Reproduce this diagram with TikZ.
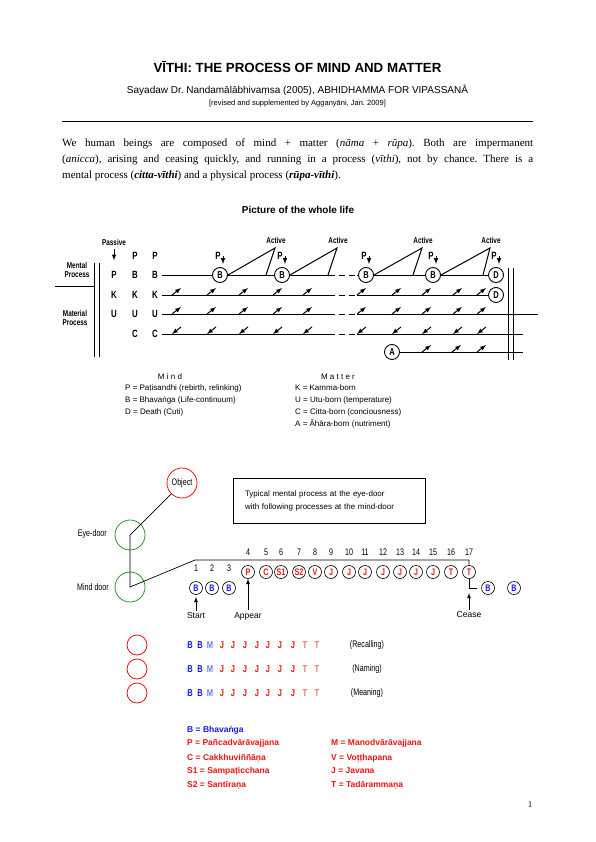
\documentclass[tikz,border=0pt]{standalone}
\usepackage{fontspec}
\setmainfont{Liberation Serif}
\setsansfont{Liberation Sans}
\newfontfamily\narrowfont[FakeStretch=0.75]{Liberation Sans}
\usetikzlibrary{arrows, positioning, calc}
\definecolor{vred}{RGB}{235,20,20}
\definecolor{vblue}{RGB}{25,25,235}
\definecolor{vgreen}{RGB}{40,150,40}
\frenchspacing

\begin{document}
\begin{tikzpicture}[x=1pt,y=-1pt,
  lbl/.style={font=\narrowfont\bfseries\fontsize{8.5}{9}\selectfont,inner sep=0pt},
  colltr/.style={font=\narrowfont\bfseries\fontsize{10.5}{11}\selectfont,inner sep=0pt},
  ring/.style={circle,draw,fill=white,line width=0.9pt,minimum size=15pt,inner sep=0pt,font=\narrowfont\bfseries\fontsize{10}{10}\selectfont},
  rowline/.style={line width=1pt},
  gap/.style={line width=1pt,dash pattern=on 6pt off 4pt},
  tick/.style={-latex,line width=1pt},
  mrk/.style={circle,draw,line width=0.6pt,minimum size=13pt,inner sep=0pt,font=\narrowfont\bfseries\fontsize{9.5}{9.5}\selectfont},
  num/.style={font=\narrowfont\fontsize{9.5}{9.5}\selectfont,inner sep=0pt},
  seq/.style={font=\narrowfont\bfseries\fontsize{10}{10}\selectfont,inner sep=0pt},
  door/.style={circle,draw=vgreen,line width=0.8pt,minimum size=30pt,inner sep=0pt},
  legtxt/.style={font=\sffamily\fontsize{8}{9}\selectfont,inner sep=0pt},
  key/.style={font=\sffamily\bfseries\fontsize{8.5}{10}\selectfont,anchor=west,inner sep=0pt}]
\useasboundingbox (0,0) rectangle (595,842);
\fill[white] (0,0) rectangle (595,842);

% Heading
\node[font=\sffamily\bfseries\fontsize{13.3}{16}\selectfont] (title) at (297.5,67) {VĪTHI: THE PROCESS OF MIND AND MATTER};
\node[font=\sffamily\fontsize{10}{12}\selectfont] (author) at (297.5,90) {Sayadaw Dr. Nandamālābhivaṃsa (2005), ABHIDHAMMA FOR VIPASSANĀ};
\node[font=\sffamily\fontsize{7.5}{9}\selectfont] (revised) at (297.5,104) {[revised and supplemented by Agganyāni, Jan. 2009]};
\draw[line width=0.7pt] (62,121) -- (533,121);
\node[anchor=north west,text width=471pt,align=justify,inner sep=0pt,font=\fontsize{11}{16}\selectfont] (intro) at (62,139)
  {We human beings are composed of mind + matter (\textit{nāma} + \textit{rūpa}). Both are impermanent\linebreak
   (\textit{anicca}), arising and ceasing quickly, and running in a process (\textit{vīthi}), not by chance. There is a\linebreak
   mental process (\textbf{\textit{citta-vīthi}}) and a~physical process (\textbf{\textit{rūpa-vīthi}}).};

% Picture of the whole life
\node[font=\sffamily\bfseries\fontsize{10}{12}\selectfont] (whole) at (298,210) {Picture of the whole life};
\node[lbl,align=center] (mental) at (77,270) {Mental\\Process};
\node[lbl,align=center] (material) at (75,318) {Material\\Process};
\draw[rowline] (94,263) -- (94,357) (99,263) -- (99,357);
\draw[rowline] (55,286) -- (94,286);
\node[lbl] (passive) at (114,242) {Passive};
\draw[tick,shorten <=4pt] (passive.south) -- ++(0,15);
\node[colltr] (p2) at (135,256) {P};
\node[colltr] (p3) at (155,256) {P};
\foreach \r/\y in {P/275,K/295,U/314}{\node[colltr] (l1\r) at (114,\y) {\r};}
\foreach \r/\y in {B/275,K/295,U/314,C/334}{
  \node[colltr] (l2\r) at (135,\y) {\r};
  \node[colltr] (l3\r) at (155,\y) {\r};}

% Mental row
\node[ring] (b1) at (220,275) {B};
\node[ring] (b2) at (282,275) {B};
\node[ring] (b3) at (366,275) {B};
\node[ring] (b4) at (433,275) {B};
\node[ring] (d1) at (496,275) {D};
\node[ring] (d2) at (496,295) {D};
\node[ring] (a1) at (392,352) {A};
\draw[rowline] (l3B.east) ++(4,0) -- (b1) -- (b2) -- (329,275);
\draw[gap] (329,275) -- (357,275);
\draw[rowline] (357,275) -- (b3) -- (b4) -- (d1);
\foreach \c/\ax/\fx in {b1/275/266,b2/337/328,b3/422/413,b4/490/483}{
  \draw[rowline] (\c.east) -- (\ax,248) -- (\fx,275);
  \node[lbl] (act\c) at (\ax+1,240) {Active};}
\foreach \c in {b1,b2,b3,b4,d1}{
  \node[colltr] (pp\c) at ($(\c)+(-2,-19)$) {P};
  \draw[tick] ($(\c)+(3,-19)$) -- ($(\c)+(3,-11)$);}

% Material rows
\draw[rowline] (l3K.east) ++(4,0) -- (329,295);
\draw[gap] (329,295) -- (357,295);
\draw[rowline] (357,295) -- (d2);
\draw[rowline] (l3U.east) ++(4,0) -- (329,314);
\draw[gap] (329,314) -- (357,314);
\draw[rowline] (357,314) -- (538,314);
\draw[rowline] (l3C.east) ++(4,0) -- (329,334);
\draw[gap] (329,334) -- (357,334);
\draw[rowline] (357,334) -- (523,334);
\draw[rowline] (a1) -- (523,352);
\draw[rowline] (508,268) -- (508,360) (513,268) -- (513,360);
\foreach \x in {177,212,244,278,308,362,397,427,458,482}{
  \draw[tick] (\x-5,295) -- (\x+4,288);
  \draw[tick] (\x-5,314) -- (\x+4,307);
  \draw[tick] (\x+4,327) -- (\x-5,334);}
\foreach \x in {427,457,482}{\draw[tick] (\x-5,352) -- (\x+4,345);}

% Legend
\node[legtxt] (mindhd) at (170,377) {M i n d};
\node[legtxt] (matterhd) at (338,377) {M a t t e r};
\node[legtxt,anchor=west] (keyP) at (125,388) {P = Paṭisandhi (rebirth, relinking)};
\node[legtxt,anchor=west] (keyB) at (125,400) {B = Bhavaṅga (Life-continuum)};
\node[legtxt,anchor=west] (keyD) at (125,412) {D = Death (Cuti)};
\node[legtxt,anchor=west] (keyK) at (295,388) {K = Kamma-born};
\node[legtxt,anchor=west] (keyU) at (295,400) {U = Utu-born (temperature)};
\node[legtxt,anchor=west] (keyC) at (295,412) {C = Citta-born (conciousness)};
\node[legtxt,anchor=west] (keyA) at (295,424) {A = Āhāra-born (nutriment)};

% Eye-door process
\node[circle,draw=vred,line width=0.8pt,minimum size=30pt,inner sep=0pt,font=\narrowfont\fontsize{9.5}{9.5}\selectfont] (object) at (182,483) {Object};
\node[door] (eye) at (130,535) {};
\node[door] (mdoor) at (130,587) {};
\node[num,anchor=east] (eyelbl) at (107,534) {Eye-door};
\node[num,anchor=east] (mdlbl) at (109,587) {Mind door};
\node[draw,line width=0.8pt,minimum width=192pt,minimum height=45pt,text width=168pt,align=left,inner xsep=12pt,font=\sffamily\fontsize{8}{13}\selectfont] (typical) at (329,500.5)
  {Typical mental process at the eye-door\\with following processes at the mind-door};
\foreach \n/\x in {1/196,2/212,3/229}{
  \node[num] (n\n) at (\x,568) {\n};
  \node[mrk,text=vblue] (bb\n) at (\x,588) {B};}
\foreach \n/\x/\t in {4/248/P,5/266/C,6/281/S1,7/299/S2,8/315/V,9/331/J,10/349/J,11/365/J,12/383/J,13/400/J,14/416/J,15/433/J,16/451/T,17/469/T}{
  \node[num] (n\n) at (\x,552) {\n};
  \node[mrk,text=vred] (m\n) at (\x,572) {\t};}
\node[mrk,text=vblue] (bb4) at (488,588) {B};
\node[mrk,text=vblue] (bb5) at (514,588) {B};
\draw[line width=0.7pt] (object) -- (eye.center) -- (mdoor.center) -- (195,560) -- (469,560) -- (m17);
\draw[line width=0.7pt] (m17) -- (469,588) -- (477,588);
\node[font=\sffamily\fontsize{8.5}{9}\selectfont,inner sep=0pt] (start) at (196,616) {Start};
\node[font=\sffamily\fontsize{8.5}{9}\selectfont,inner sep=0pt] (appear) at (248,616) {Appear};
\node[font=\sffamily\fontsize{8.5}{9}\selectfont,inner sep=0pt] (cease) at (469,615) {Cease};
\draw[tick,line width=0.8pt,shorten <=2pt,shorten >=2pt] (start.north) -- (bb1);
\draw[tick,line width=0.8pt,shorten <=2pt] (appear.north) -- (m4);
\draw[tick,line width=0.8pt,shorten <=2pt] (cease.north) -- (469,593) coordinate (ceasetop);

% Mind-door processes
\foreach \y/\w in {645/Recalling,669/Naming,693/Meaning}{
  \node[circle,draw=vred,line width=0.8pt,minimum size=20pt] (door\w) at (137,\y) {};
  \foreach \x/\t/\clr in {190/B/vblue,200/B/vblue,210/M/vblue!60,222/J/vred,233/J/vred,245/J/vred,257/J/vred,268/J/vred,280/J/vred,293/J/vred,305/T/vred!60,317/T/vred!60}{
    \node[seq,text=\clr] (s\w\x) at (\x,\y) {\t};}
  \node[num] (note\w) at (367,\y) {(\w)};}

% Key
\node[key,text=vblue] (kB) at (187,730) {B = Bhavaṅga};
\node[key,text=vred] (kP) at (187,743) {P = Pañcadvārāvajjana};
\node[key,text=vred] (kC) at (187,758) {C = Cakkhuviññāṇa};
\node[key,text=vred] (kS1) at (187,771) {S1 = Sampaṭicchana};
\node[key,text=vred] (kS2) at (187,785) {S2 = Santīraṇa};
\node[key,text=vred] (kM) at (331,743) {M = Manodvārāvajjana};
\node[key,text=vred] (kV) at (331,758) {V = Voṭṭhapana};
\node[key,text=vred] (kJ) at (331,771) {J = Javana};
\node[key,text=vred] (kT) at (331,785) {T = Tadārammaṇa};
\node[font=\fontsize{9}{10}\selectfont] (pg) at (530,805) {1};
\end{tikzpicture}
\end{document}
